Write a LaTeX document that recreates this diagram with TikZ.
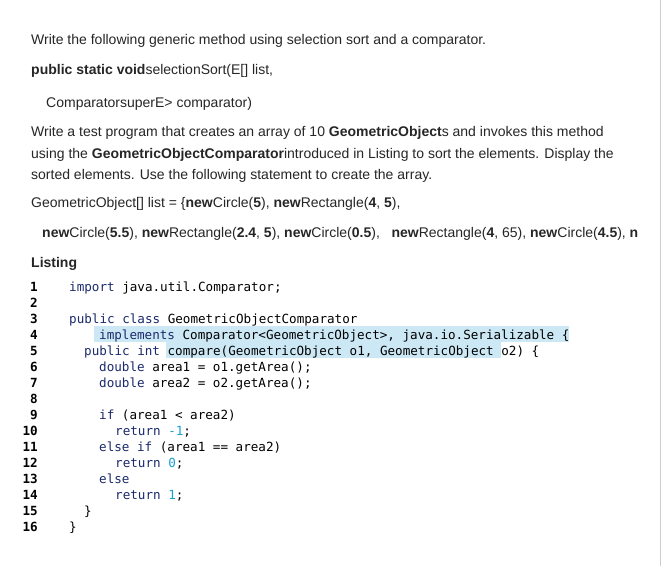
\documentclass[tikz,border=0pt]{standalone}
\usepackage{fontspec}
\setmainfont{Liberation Sans}
\newfontfamily\codefont{DejaVu Sans Mono}
\definecolor{kw}{HTML}{1B2A6B}
\definecolor{num}{HTML}{1AA0D0}
\definecolor{hl}{HTML}{CDE8F5}
\newcommand{\K}[1]{\textcolor{kw}{#1}}
\newcommand{\N}[1]{\textcolor{num}{#1}}
\begin{document}
\begin{tikzpicture}[x=1pt,y=-1pt,
  txt/.style={anchor=base west,inner sep=0pt,text=black!85,font=\fontsize{14}{16}\selectfont},
  code/.style={anchor=base west,inner sep=0pt,font=\codefont\fontsize{12.6}{15}\selectfont},
  lnum/.style={anchor=base east,inner sep=0pt,font=\codefont\bfseries\fontsize{12.6}{15}\selectfont}]
\useasboundingbox (0,0) rectangle (665,566);
\fill[white] (0,0) rectangle (665,566);
\draw[gray!40,line width=1] (660,0) -- (660,566);
\node[txt] (t1) at (31,44) {Write the following generic method using selection sort and a comparator.};
\node[txt] (t2) at (31,74) {\textbf{public static void}selectionSort(E[] list,};
\node[txt] (t3) at (46,107) {ComparatorsuperE> comparator)};
\node[txt] (t4) at (31,136) {Write a test program that creates an array of 10 \textbf{GeometricObject}s and invokes this method};
\node[txt] (t5) at (31,158) {using the \textbf{GeometricObjectComparator}introduced in Listing to sort the elements. Display the};
\node[txt] (t6) at (31,179) {sorted elements. Use the following statement to create the array.};
\node[txt] (t7) at (31,207) {GeometricObject[] list = \{\textbf{new}Circle(\textbf{5}), \textbf{new}Rectangle(\textbf{4}, \textbf{5}),};
\begin{scope}
\clip (0,180) rectangle (637,240);
\node[txt] (t8) at (42,237) {\textbf{new}Circle(\textbf{5.5}), \textbf{new}Rectangle(\textbf{2.4}, \textbf{5}), \textbf{new}Circle(\textbf{0.5}),\ \ \ \textbf{new}Rectangle(\textbf{4}, 65), \textbf{new}Circle(\textbf{4.5}), \textbf{new}};
\end{scope}
\node[txt] (t9) at (31,267) {\textbf{Listing}};
% highlights
\fill[hl] (94,326) rectangle (569,342);
\fill[hl] (166,342) rectangle (501,358);
\foreach \i in {1,...,16} {\node[lnum] (n\i) at (38,291+16*\i-16) {\i};}
\node[code] (c1) at (69,291) {\K{import} java.util.Comparator;};
\node[code] (c3) at (69,323) {\K{public class} GeometricObjectComparator};
\node[code] (c4) at (99,339) {\K{implements} Comparator<GeometricObject>, java.io.Serializable \{};
\node[code] (c5) at (84,355) {\K{public int} compare(GeometricObject o1, GeometricObject o2) \{};
\node[code] (c6) at (99,371) {\K{double} area1 = o1.getArea();};
\node[code] (c7) at (99,387) {\K{double} area2 = o2.getArea();};
\node[code] (c9) at (99,419) {\K{if} (area1 < area2)};
\node[code] (c10) at (115,435) {\K{return} \N{-1};};
\node[code] (c11) at (99,451) {\K{else if} (area1 == area2)};
\node[code] (c12) at (115,467) {\K{return} \N{0};};
\node[code] (c13) at (99,483) {\K{else}};
\node[code] (c14) at (115,499) {\K{return} \N{1};};
\node[code] (c15) at (84,515) {\}};
\node[code] (c16) at (69,531) {\}};
\end{tikzpicture}
\end{document}
